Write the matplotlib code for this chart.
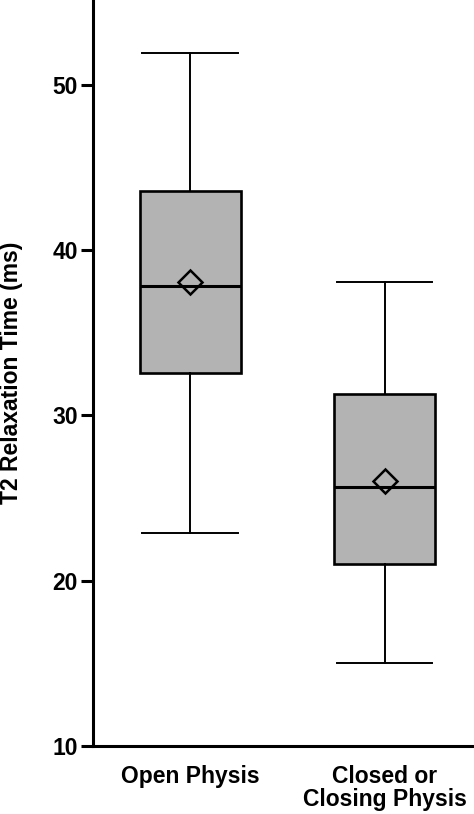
import matplotlib
matplotlib.use("Agg")
import matplotlib.pyplot as plt

plt.rcParams['font.family'] = ['Liberation Sans', 'DejaVu Sans']

#box plot summary values
groups = ['Open Physis', 'Closed or\nClosing Physis']
whisker_low = [22.85, 15.0]
q1 = [32.55, 21.0]
median = [37.8, 25.65]
q3 = [43.55, 31.3]
whisker_high = [51.95, 38.05]
means = [38.05, 26.05]

stats = []
for i in range(len(groups)):
    stats.append({'label': groups[i], 'whislo': whisker_low[i], 'q1': q1[i],
                  'med': median[i], 'q3': q3[i], 'whishi': whisker_high[i],
                  'mean': means[i], 'fliers': []})

fig = plt.figure(figsize=(4.74, 8.14), dpi=100)
ax = fig.add_axes([0.196, 0.0839, 0.804, 0.9161])

ax.bxp(stats, positions=[1, 2], widths=0.52, patch_artist=True, showmeans=True,
       boxprops=dict(facecolor='#b3b3b3', edgecolor='black', linewidth=1.9),
       medianprops=dict(color='black', linewidth=2.2),
       whiskerprops=dict(color='black', linewidth=1.4),
       capprops=dict(color='black', linewidth=1.4),
       capwidths=0.49,
       meanprops=dict(marker='D', markersize=12, markerfacecolor='none',
                      markeredgecolor='black', markeredgewidth=1.8))

ax.set_xlim(0.5, 2.46)
ax.set_ylim(10, 55.14)
ax.set_yticks([10, 20, 30, 40, 50])
ax.spines['top'].set_visible(False)
ax.spines['right'].set_visible(False)
ax.spines['left'].set_linewidth(2.2)
ax.spines['bottom'].set_linewidth(2.2)
ax.tick_params(axis='y', length=9, width=2.2, labelsize=16.5, pad=2)
ax.tick_params(axis='x', length=0, labelsize=16.5, pad=14)
for lab in ax.get_xticklabels() + ax.get_yticklabels():
    lab.set_fontweight('bold')
    lab.set_linespacing(1.0)
ax.set_ylabel("T2 Relaxation Time (ms)", fontsize=16.5, fontweight='bold', labelpad=21)

plt.savefig("out.png", dpi=100)
